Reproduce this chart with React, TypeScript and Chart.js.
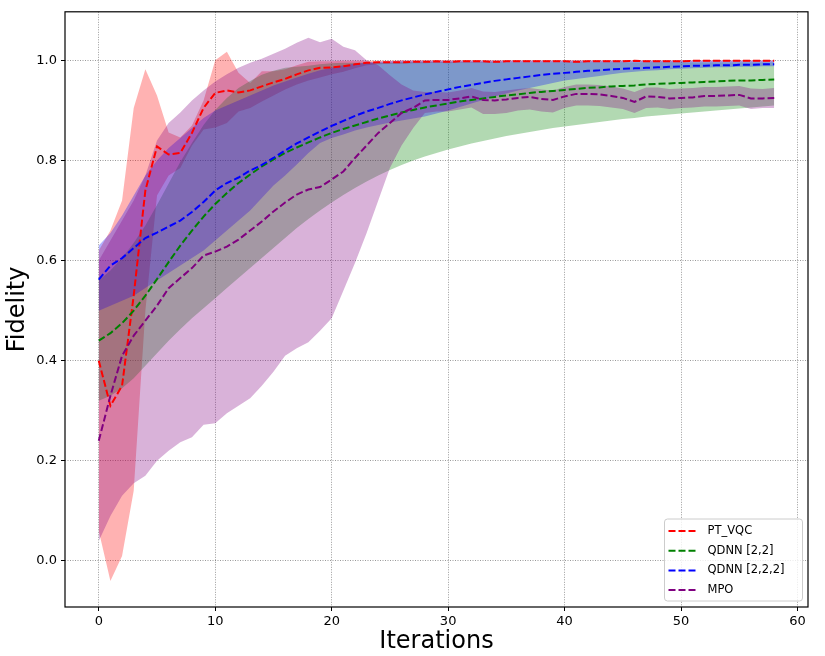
import React, { useEffect, useRef } from "react";
import { Chart, registerables } from "chart.js";

Chart.register(...registerables);

// Training iterations (x axis)
const iterations = [...Array(59).keys()];

// PT_VQC
const ptVqcMean = [
  0.40, 0.31, 0.35, 0.53, 0.74, 0.828, 0.812, 0.815, 0.855, 0.905,
  0.935, 0.94, 0.936, 0.94, 0.948, 0.956, 0.963, 0.972, 0.98, 0.985,
  0.986, 0.988, 0.992, 0.995, 0.996, 0.996, 0.996, 0.997, 0.997, 0.998,
  0.997, 0.998, 0.998, 0.998, 0.997, 0.998, 0.998, 0.998, 0.998, 0.998,
  0.998, 0.997, 0.998, 0.998, 0.998, 0.998, 0.999, 0.998, 0.998, 0.998,
  0.998, 0.999, 0.999, 0.999, 0.999, 0.999, 0.999, 0.999, 0.999,
];
const ptVqcUpper = [
  0.62, 0.66, 0.72, 0.905, 0.982, 0.93, 0.856, 0.846, 0.87, 0.92,
  1.0, 1.017, 0.975, 0.955, 0.978, 0.978, 0.982, 0.99, 0.997, 0.998,
  0.998, 0.999, 0.999, 0.999, 0.999, 0.999, 1.0, 1.0, 1.0, 1.0,
  1.0, 1.0, 1.0, 1.0, 1.0, 1.0, 1.0, 1.0, 1.0, 1.0,
  1.0, 1.0, 1.0, 1.0, 1.0, 1.0, 1.0, 1.0, 1.0, 1.0,
  1.0, 1.0, 1.0, 1.0, 1.0, 1.0, 1.0, 1.0, 1.0,
];
const ptVqcLower = [
  0.06, -0.04, 0.01, 0.14, 0.50, 0.73, 0.77, 0.785, 0.83, 0.862,
  0.866, 0.875, 0.898, 0.905, 0.918, 0.93, 0.942, 0.952, 0.96, 0.966,
  0.972, 0.977, 0.984, 0.99, 0.992, 0.993, 0.993, 0.994, 0.994, 0.995,
  0.994, 0.995, 0.995, 0.995, 0.995, 0.996, 0.996, 0.996, 0.996, 0.996,
  0.996, 0.995, 0.996, 0.996, 0.996, 0.996, 0.997, 0.996, 0.996, 0.996,
  0.996, 0.997, 0.997, 0.997, 0.997, 0.997, 0.997, 0.997, 0.997,
];

// QDNN [2,2]
const qdnn22Mean = [
  0.44, 0.455, 0.475, 0.50, 0.53, 0.563, 0.597, 0.63, 0.66, 0.688,
  0.713, 0.735, 0.755, 0.772, 0.788, 0.802, 0.815, 0.826, 0.836, 0.846,
  0.855, 0.863, 0.87, 0.877, 0.884, 0.89, 0.896, 0.901, 0.906, 0.91,
  0.914, 0.918, 0.921, 0.924, 0.927, 0.93, 0.932, 0.935, 0.937, 0.939,
  0.941, 0.943, 0.945, 0.946, 0.948, 0.949, 0.95, 0.952, 0.953, 0.954,
  0.955, 0.956, 0.957, 0.958, 0.959, 0.96, 0.96, 0.961, 0.962,
];
const qdnn22Upper = [
  0.56, 0.58, 0.605, 0.635, 0.67, 0.711, 0.754, 0.797, 0.835, 0.871,
  0.901, 0.925, 0.945, 0.959, 0.971, 0.979, 0.985, 0.987, 0.989, 0.992,
  0.994, 0.995, 0.995, 0.995, 0.995, 0.995, 0.996, 0.996, 0.996, 0.996,
  0.996, 0.996, 0.996, 0.996, 0.996, 0.996, 0.996, 0.996, 0.996, 0.996,
  0.996, 0.996, 0.996, 0.996, 0.996, 0.996, 0.996, 0.996, 0.996, 0.996,
  0.996, 0.996, 0.996, 0.996, 0.996, 0.996, 0.996, 0.996, 0.996,
];
const qdnn22Lower = [
  0.32, 0.33, 0.345, 0.365, 0.39, 0.415, 0.44, 0.463, 0.485, 0.505,
  0.525, 0.545, 0.565, 0.585, 0.605, 0.625, 0.645, 0.665, 0.683, 0.70,
  0.716, 0.731, 0.745, 0.758, 0.77, 0.781, 0.791, 0.80, 0.808, 0.815,
  0.822, 0.828, 0.834, 0.839, 0.844, 0.849, 0.853, 0.857, 0.861, 0.865,
  0.868, 0.871, 0.874, 0.877, 0.88, 0.883, 0.885, 0.888, 0.89, 0.892,
  0.894, 0.896, 0.898, 0.90, 0.902, 0.904, 0.906, 0.908, 0.91,
];

// QDNN [2,2,2]
const qdnn222Mean = [
  0.562, 0.59, 0.605, 0.625, 0.645, 0.656, 0.668, 0.68, 0.697, 0.717,
  0.74, 0.755, 0.766, 0.78, 0.791, 0.805, 0.82, 0.834, 0.846, 0.858,
  0.869, 0.879, 0.889, 0.898, 0.905, 0.913, 0.92, 0.926, 0.932, 0.937,
  0.942, 0.947, 0.951, 0.955, 0.959, 0.962, 0.965, 0.968, 0.971, 0.973,
  0.975, 0.977, 0.979, 0.98, 0.982, 0.983, 0.984, 0.985, 0.986, 0.987,
  0.988, 0.989, 0.989, 0.99, 0.99, 0.991, 0.991, 0.992, 0.992,
];
const qdnn222Upper = [
  0.63, 0.655, 0.69, 0.73, 0.77, 0.80, 0.825, 0.845, 0.865, 0.885,
  0.90, 0.91, 0.92, 0.93, 0.94, 0.95, 0.958, 0.966, 0.973, 0.98,
  0.985, 0.99, 0.993, 0.995, 0.997, 0.998, 0.999, 0.999, 0.999, 0.999,
  0.999, 0.999, 0.999, 0.999, 0.999, 0.999, 0.999, 0.999, 0.999, 0.999,
  0.999, 0.999, 0.999, 0.999, 0.999, 0.999, 0.999, 0.999, 0.999, 0.999,
  0.999, 0.999, 0.999, 0.999, 0.999, 0.999, 0.999, 0.999, 0.999,
];
const qdnn222Lower = [
  0.50, 0.51, 0.52, 0.53, 0.545, 0.56, 0.575, 0.59, 0.605, 0.62,
  0.64, 0.66, 0.68, 0.70, 0.725, 0.75, 0.77, 0.792, 0.815, 0.835,
  0.845, 0.852, 0.86, 0.866, 0.871, 0.876, 0.88, 0.884, 0.888, 0.894,
  0.90, 0.907, 0.914, 0.921, 0.928, 0.934, 0.94, 0.945, 0.95, 0.955,
  0.96, 0.963, 0.966, 0.969, 0.972, 0.975, 0.977, 0.979, 0.98, 0.982,
  0.983, 0.984, 0.985, 0.986, 0.986, 0.987, 0.987, 0.988, 0.988,
];

// MPO
const mpoMean = [
  0.24, 0.33, 0.41, 0.45, 0.48, 0.51, 0.545, 0.565, 0.585, 0.61,
  0.618, 0.628, 0.642, 0.66, 0.678, 0.698, 0.716, 0.732, 0.742, 0.747,
  0.762, 0.778, 0.805, 0.83, 0.855, 0.875, 0.895, 0.905, 0.92, 0.921,
  0.921, 0.924, 0.928, 0.921, 0.92, 0.922, 0.925, 0.927, 0.923, 0.921,
  0.928, 0.933, 0.933, 0.932, 0.929, 0.925, 0.917, 0.928, 0.927, 0.924,
  0.925, 0.926, 0.929, 0.929, 0.93, 0.931, 0.924, 0.924, 0.925,
];
const mpoUpper = [
  0.60, 0.64, 0.68, 0.72, 0.77, 0.84, 0.875, 0.896, 0.92, 0.94,
  0.958, 0.972, 0.985, 0.995, 1.003, 1.013, 1.023, 1.035, 1.045, 1.036,
  1.043, 1.027, 1.02, 1.0, 0.99, 0.97, 0.952, 0.94, 0.937, 0.937,
  0.936, 0.94, 0.945, 0.938, 0.937, 0.94, 0.943, 0.945, 0.942, 0.94,
  0.947, 0.952, 0.952, 0.951, 0.948, 0.944, 0.937, 0.946, 0.946, 0.943,
  0.944, 0.945, 0.947, 0.947, 0.948, 0.949, 0.944, 0.943, 0.945,
];
const mpoLower = [
  0.04, 0.09, 0.13, 0.155, 0.17, 0.20, 0.22, 0.237, 0.247, 0.272,
  0.275, 0.295, 0.31, 0.325, 0.35, 0.378, 0.41, 0.425, 0.437, 0.46,
  0.485, 0.54, 0.595, 0.655, 0.72, 0.785, 0.83, 0.865, 0.895, 0.898,
  0.898, 0.902, 0.906, 0.893, 0.893, 0.895, 0.90, 0.902, 0.898, 0.896,
  0.905, 0.91, 0.91, 0.909, 0.906, 0.903, 0.895, 0.905, 0.906, 0.903,
  0.905, 0.906, 0.908, 0.908, 0.909, 0.91, 0.903, 0.905, 0.905,
];

const xTickValues = [0, 10, 20, 30, 40, 50, 60];
const yTickValues = [0, 0.2, 0.4, 0.6, 0.8, 1.0];

const FONT = "'DejaVu Sans', sans-serif";

const series = [
  { label: "PT_VQC", color: "#ff0000", band: "rgba(255,0,0,0.3)", mean: ptVqcMean, upper: ptVqcUpper, lower: ptVqcLower },
  { label: "QDNN [2,2]", color: "#008000", band: "rgba(0,128,0,0.3)", mean: qdnn22Mean, upper: qdnn22Upper, lower: qdnn22Lower },
  { label: "QDNN [2,2,2]", color: "#0000ff", band: "rgba(0,0,255,0.3)", mean: qdnn222Mean, upper: qdnn222Upper, lower: qdnn222Lower },
  { label: "MPO", color: "#800080", band: "rgba(128,0,128,0.3)", mean: mpoMean, upper: mpoUpper, lower: mpoLower },
];

const toPoints = (values: number[]) => iterations.map((x, i) => ({ x, y: values[i] }));

// Axes frame on all four sides plus a boxed legend in the lower-right corner
const frameAndLegend = {
  id: "frameAndLegend",
  afterDraw(chart: any) {
    const { ctx, chartArea } = chart;
    const { left, top, right, bottom } = chartArea;
    ctx.save();
    ctx.strokeStyle = "#000";
    ctx.lineWidth = 1.2;
    ctx.strokeRect(left, top, right - left, bottom - top);

    const boxW = 138;
    const boxH = 82;
    const bx = right - 5.5 - boxW;
    const by = bottom - 6 - boxH;
    ctx.beginPath();
    const r = 3;
    ctx.moveTo(bx + r, by);
    ctx.lineTo(bx + boxW - r, by);
    ctx.quadraticCurveTo(bx + boxW, by, bx + boxW, by + r);
    ctx.lineTo(bx + boxW, by + boxH - r);
    ctx.quadraticCurveTo(bx + boxW, by + boxH, bx + boxW - r, by + boxH);
    ctx.lineTo(bx + r, by + boxH);
    ctx.quadraticCurveTo(bx, by + boxH, bx, by + boxH - r);
    ctx.lineTo(bx, by + r);
    ctx.quadraticCurveTo(bx, by, bx + r, by);
    ctx.closePath();
    ctx.fillStyle = "rgba(255,255,255,0.8)";
    ctx.fill();
    ctx.strokeStyle = "#cccccc";
    ctx.lineWidth = 1;
    ctx.stroke();

    ctx.font = `11.5px ${FONT}`;
    ctx.textBaseline = "middle";
    ctx.textAlign = "left";
    series.forEach((s, i) => {
      const rowY = by + 12 + i * 19.7;
      ctx.beginPath();
      ctx.setLineDash([7, 3]);
      ctx.strokeStyle = s.color;
      ctx.lineWidth = 2;
      ctx.moveTo(bx + 4, rowY);
      ctx.lineTo(bx + 33, rowY);
      ctx.stroke();
      ctx.setLineDash([]);
      ctx.fillStyle = "#000";
      ctx.fillText(s.label, bx + 43, rowY);
    });
    ctx.restore();
  },
};

export default function App() {
  const canvasRef = useRef<HTMLCanvasElement | null>(null);

  useEffect(() => {
    const canvas = canvasRef.current;
    if (!canvas) return;

    const datasets: any[] = [];
    series.forEach((s, i) => {
      datasets.push({
        label: `${s.label} lower`,
        data: toPoints(s.lower),
        borderWidth: 0,
        pointRadius: 0,
        fill: false,
        order: 20 - i * 2,
      });
      datasets.push({
        label: `${s.label} upper`,
        data: toPoints(s.upper),
        borderWidth: 0,
        pointRadius: 0,
        fill: "-1",
        backgroundColor: s.band,
        order: 19 - i * 2,
      });
    });
    series.forEach((s, i) => {
      datasets.push({
        label: s.label,
        data: toPoints(s.mean),
        borderColor: s.color,
        borderWidth: 2,
        borderDash: [7, 3],
        pointRadius: 0,
        fill: false,
        order: 4 - i,
      });
    });

    const gridStyle = {
      color: "rgba(0,0,0,0.5)",
      lineWidth: 0.8,
      drawTicks: true,
      tickLength: 4,
      tickColor: "#000",
      tickWidth: 1,
      tickBorderDash: [],
    };
    // dotted grid lines (Chart.js 4 reads grid dashes from the border options)
    const borderStyle = { display: false, dash: [1, 1.5] };

    const chart = new Chart(canvas, {
      type: "line",
      data: { datasets },
      plugins: [frameAndLegend],
      options: {
        animation: false,
        responsive: false,
        devicePixelRatio: 1,
        layout: { padding: { top: 10, right: 17, left: 0, bottom: 0 } },
        plugins: {
          legend: { display: false },
          tooltip: { enabled: false },
        },
        elements: { line: { tension: 0 } },
        scales: {
          x: {
            type: "linear",
            min: -2.9,
            max: 60.9,
            afterBuildTicks: (scale: any) => {
              scale.ticks = xTickValues.map((v) => ({ value: v }));
            },
            afterFit: (scale: any) => {
              scale.height = 49;
            },
            grid: gridStyle,
            border: borderStyle,
            ticks: {
              color: "#000",
              padding: 3,
              font: { family: FONT, size: 13 },
              maxRotation: 0,
              callback: (v: any) => String(v),
            },
            title: {
              display: true,
              text: "Iterations",
              color: "#000",
              font: { family: FONT, size: 24 },
              padding: { top: 0, bottom: 0 },
            },
          },
          y: {
            min: -0.092,
            max: 1.097,
            afterBuildTicks: (scale: any) => {
              scale.ticks = yTickValues.map((v) => ({ value: v }));
            },
            afterFit: (scale: any) => {
              scale.width = 65;
            },
            grid: gridStyle,
            border: borderStyle,
            ticks: {
              color: "#000",
              padding: 4,
              font: { family: FONT, size: 13 },
              callback: (v: any) => Number(v).toFixed(1),
            },
            title: {
              display: true,
              text: "Fidelity",
              color: "#000",
              font: { family: FONT, size: 24 },
              padding: { top: 3, bottom: 0 },
            },
          },
        },
      },
    });

    return () => chart.destroy();
  }, []);

  return (
    <div style={{ position: "absolute", left: 0, top: 0, width: 825, height: 656, background: "#fff" }}>
      <canvas ref={canvasRef} width={825} height={656} style={{ display: "block", width: 825, height: 656 }} />
    </div>
  );
}
